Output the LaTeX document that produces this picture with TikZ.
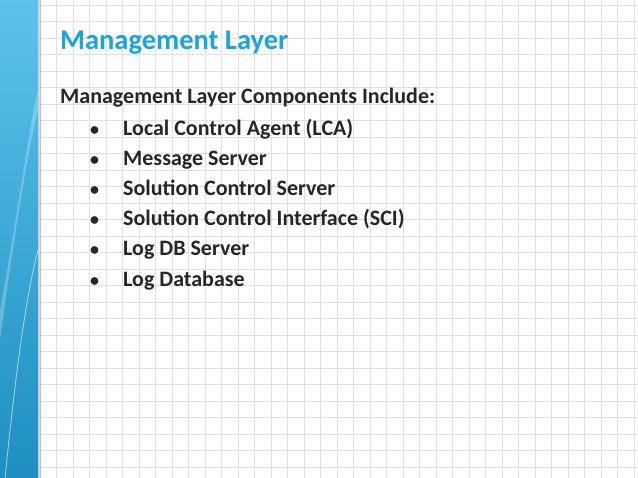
\documentclass[tikz,border=0pt]{standalone}
\usepackage{fontspec}
\setmainfont{Carlito}
\definecolor{band1}{HTML}{5CC3EC}
\definecolor{band2}{HTML}{1E8FC0}
\definecolor{ttl}{HTML}{1AA3DD}
\begin{document}
\begin{tikzpicture}[x=1pt,y=-1pt,
  item/.style={anchor=base west,inner sep=0pt,font=\fontsize{22}{24}\selectfont\bfseries,text=black!85}]
\useasboundingbox (0,0) rectangle (638,478);
\fill[white] (0,0) rectangle (638,478);
\foreach \i in {0,...,38} {\draw[black!12,line width=0.6] (40+\i*16.5,0) -- (40+\i*16.5,478);}
\foreach \i in {0,...,29} {\draw[black!12,line width=0.6] (40,\i*16.5+5) -- (638,\i*16.5+5);}
\shade[top color=band1,bottom color=band2] (0,0) rectangle (38,478);
\fill[white,opacity=0.25] (0,310) .. controls (20,200) and (30,120) .. (38,90) -- (38,110) .. controls (28,150) and (15,230) .. (0,340) -- cycle;
\draw[white,opacity=0.6,line width=0.8] (5,478) .. controls (15,380) and (25,300) .. (38,250);
\fill[black,opacity=0.15] (38,0) rectangle (41,478);
\node[anchor=base west,inner sep=0pt,font=\fontsize{28.5}{30}\selectfont\bfseries,text=ttl] (t) at (60,50) {Management Layer};
\node[item] (h) at (60,104) {Management Layer Components Include:};
\foreach \y/\s [count=\k] in {136/Local Control Agent (LCA),166/Message Server,196/Solution Control Server,226/Solution Control Interface (SCI),256/Log DB Server,287/Log Database} {
  \node[item] (b\k) at (90,\y) {\fontsize{18}{20}\selectfont•};
  \node[item] (i\k) at (123,\y) {\s};
}
\end{tikzpicture}
\end{document}
